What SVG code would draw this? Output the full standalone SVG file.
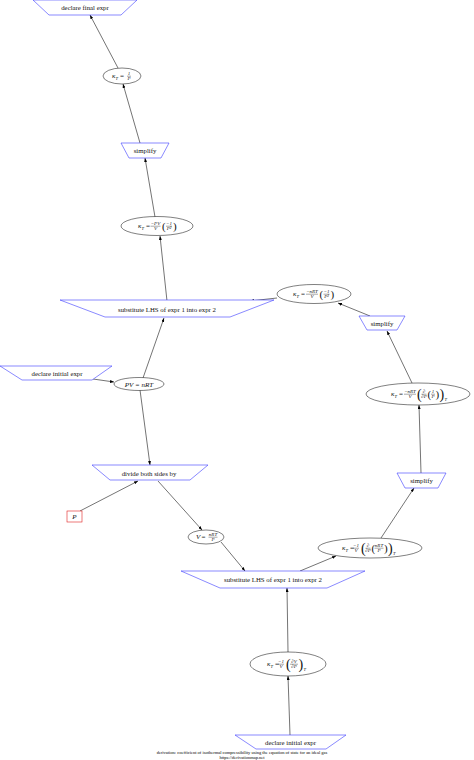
<svg xmlns="http://www.w3.org/2000/svg" width="474" height="760" viewBox="0 0 474 760">
<defs>
<marker id="arr" markerWidth="4" markerHeight="3" refX="4" refY="1.5" orient="auto" markerUnits="userSpaceOnUse">
<path d="M0,0 L4,1.5 L0,3 Z" fill="#000"/>
</marker>
<style>
.trap{fill:#fff;stroke:#3a3aff;stroke-width:0.6}
.ell{fill:#fff;stroke:#000;stroke-width:0.5}
.box{fill:#fff;stroke:#e02020;stroke-width:0.6}
.edge{fill:none;stroke:#000;stroke-width:0.55;marker-end:url(#arr)}
.t{font-family:"Liberation Serif",serif;font-size:6.8px;text-anchor:middle;fill:#111}
.mi{font-family:"Liberation Serif",serif;font-style:italic;font-size:7px;fill:#111}
.mu{font-family:"Liberation Serif",serif;font-size:7px;fill:#111}
.sb{font-family:"Liberation Serif",serif;font-style:italic;font-size:4.5px;fill:#111}
.fr{font-family:"Liberation Serif",serif;font-style:italic;font-size:5px;text-anchor:middle;fill:#111}
.p1{font-family:"Liberation Serif",serif;font-size:11px;fill:#111}
.p2{font-family:"Liberation Serif",serif;font-size:14px;fill:#111}
.bar{stroke:#000;stroke-width:0.35}
.ft{font-family:"Liberation Serif",serif;font-size:4.5px;text-anchor:middle;fill:#000}
</style>
</defs>
<rect width="474" height="760" fill="#fff"/>

<g id="connectors">
<line class="edge" x1="290" y1="735" x2="288" y2="676"/>
<line class="edge" x1="288" y1="652" x2="287" y2="588"/>
<line class="edge" x1="221" y1="542" x2="245" y2="571"/>
<line class="edge" x1="300" y1="571" x2="336" y2="556"/>
<line class="edge" x1="381" y1="538" x2="414" y2="488"/>
<line class="edge" x1="421" y1="473" x2="419" y2="405"/>
<line class="edge" x1="412" y1="383" x2="387" y2="331"/>
<line class="edge" x1="370" y1="316" x2="338" y2="303"/>
<line class="edge" x1="277" y1="298" x2="250" y2="301"/>
<line class="edge" x1="143" y1="378" x2="164" y2="318"/>
<line class="edge" x1="167" y1="301" x2="160" y2="236"/>
<line class="edge" x1="155" y1="217" x2="145" y2="158"/>
<line class="edge" x1="140" y1="143" x2="123" y2="84"/>
<line class="edge" x1="118" y1="68" x2="90" y2="15"/>
<line class="edge" x1="93" y1="379" x2="114" y2="382"/>
<line class="edge" x1="140" y1="390" x2="150" y2="465"/>
<line class="edge" x1="80" y1="511" x2="138" y2="481"/>
<line class="edge" x1="158" y1="481" x2="202" y2="530"/>
</g>

<g id="declare_final_expr">
<polygon class="trap" points="33,0 137,0 121,15 49,15"/>
<text class="t" x="85" y="10">declare final expr</text>
</g>

<g id="kappa_1_over_P">
<ellipse class="ell" cx="122" cy="76" rx="19" ry="8"/>
<text class="mi" x="112" y="78">κ</text><text class="sb" x="115.6" y="79.5">T</text><text class="mu" x="120" y="78">=</text>
<text class="fr" x="129" y="74.7">1</text><line class="bar" x1="127" y1="76.2" x2="131" y2="76.2"/><text class="fr" x="129" y="80.2">P</text>
</g>

<g id="simplify_1">
<polygon class="trap" points="121,143 169,143 161,158 129,158"/>
<text class="t" x="145" y="153">simplify</text>
</g>

<g id="kappa_PV">
<ellipse class="ell" cx="157" cy="226" rx="36" ry="9.5"/>
<text class="mi" x="138" y="228">κ</text><text class="sb" x="141.6" y="229.5">T</text><text class="mu" x="146" y="228">=</text>
<text class="fr" x="155.5" y="224.7">−PV</text><line class="bar" x1="150.5" y1="226.2" x2="160.5" y2="226.2"/><text class="fr" x="155.5" y="230.2">V</text>
<text class="p1" x="162" y="229.5">(</text>
<text class="fr" x="169" y="224.7">−1</text><line class="bar" x1="166" y1="226.2" x2="172" y2="226.2"/><text class="fr" x="169" y="230.4">P²</text>
<text class="p1" x="173" y="229.5">)</text>
</g>

<g id="substitute_1">
<polygon class="trap" points="60,300 274,300 230,317 105,317"/>
<text class="t" x="167" y="311.5">substitute LHS of expr 1 into expr 2</text>
</g>

<g id="kappa_nRT_1">
<ellipse class="ell" cx="314" cy="294" rx="37" ry="9.5"/>
<text class="mi" x="293" y="296">κ</text><text class="sb" x="296.6" y="297.5">T</text><text class="mu" x="301" y="296">=</text>
<text class="fr" x="312" y="292.7">−nRT</text><line class="bar" x1="306" y1="294.2" x2="318" y2="294.2"/><text class="fr" x="312" y="298.2">V</text>
<text class="p1" x="319.5" y="297.5">(</text>
<text class="fr" x="326.5" y="292.7">−1</text><line class="bar" x1="323.5" y1="294.2" x2="329.5" y2="294.2"/><text class="fr" x="326.5" y="298.4">P²</text>
<text class="p1" x="330.5" y="297.5">)</text>
</g>

<g id="simplify_2">
<polygon class="trap" points="359,316 405,316 397,330 367,330"/>
<text class="t" x="382" y="325.5">simplify</text>
</g>

<g id="kappa_nRT_2">
<ellipse class="ell" cx="418" cy="394" rx="52" ry="11"/>
<text class="mi" x="391" y="396">κ</text><text class="sb" x="394.6" y="397.5">T</text><text class="mu" x="399" y="396">=</text>
<text class="fr" x="410" y="392.7">−nRT</text><line class="bar" x1="404" y1="394.2" x2="416" y2="394.2"/><text class="fr" x="410" y="398.2">V</text>
<text class="p2" x="417" y="398.5">(</text>
<text class="fr" x="424" y="392.7">∂</text><line class="bar" x1="421.5" y1="394.2" x2="426.5" y2="394.2"/><text class="fr" x="424" y="398.2">∂P</text>
<text class="p1" x="427.5" y="397.5">(</text>
<text class="fr" x="433" y="392.7">1</text><line class="bar" x1="431" y1="394.2" x2="435" y2="394.2"/><text class="fr" x="433" y="398.2">P</text>
<text class="p1" x="435.5" y="397.5">)</text>
<text class="p2" x="439.5" y="398.5">)</text>
<text class="sb" x="444.5" y="401">T</text>
</g>

<g id="declare_initial_expr_1">
<polygon class="trap" points="0,366 112,366 92,380 22,380"/>
<text class="t" x="57" y="375.5">declare initial expr</text>
</g>

<g id="PV_nRT">
<ellipse class="ell" cx="139" cy="384" rx="25" ry="6.5"/>
<text class="mi" x="139" y="386.5" text-anchor="middle">PV = nRT</text>
</g>

<g id="divide_both_sides">
<polygon class="trap" points="92,465 208,465 190,480 110,480"/>
<text class="t" x="149" y="475.5">divide both sides by</text>
</g>

<g id="simplify_3">
<polygon class="trap" points="397,473 446,473 438,488 405,488"/>
<text class="t" x="421.5" y="483">simplify</text>
</g>

<g id="P_box">
<rect class="box" x="67" y="511" width="15" height="11"/>
<text class="mi" x="74.5" y="519" text-anchor="middle">P</text>
</g>

<g id="V_nRT_P">
<ellipse class="ell" cx="206" cy="537" rx="18" ry="7"/>
<text class="mi" x="196" y="539">V</text><text class="mu" x="201.5" y="539">=</text>
<text class="fr" x="213" y="535.7">nRT</text><line class="bar" x1="208.5" y1="537.2" x2="217.5" y2="537.2"/><text class="fr" x="213" y="541.2">P</text>
</g>

<g id="kappa_partial_nRT">
<ellipse class="ell" cx="370" cy="548" rx="52" ry="10"/>
<text class="mi" x="342" y="550">κ</text><text class="sb" x="345.6" y="551.5">T</text><text class="mu" x="350" y="550">=</text>
<text class="fr" x="356" y="546.7">−1</text><line class="bar" x1="353" y1="548.2" x2="359" y2="548.2"/><text class="fr" x="356" y="552.2">V</text>
<text class="p2" x="361" y="552.5">(</text>
<text class="fr" x="368" y="546.7">∂</text><line class="bar" x1="365.5" y1="548.2" x2="370.5" y2="548.2"/><text class="fr" x="368" y="552.2">∂P</text>
<text class="p1" x="371.5" y="551.5">(</text>
<text class="fr" x="379" y="546.7">nRT</text><line class="bar" x1="374.5" y1="548.2" x2="383.5" y2="548.2"/><text class="fr" x="379" y="552.2">P</text>
<text class="p1" x="384" y="551.5">)</text>
<text class="p2" x="388" y="552.5">)</text>
<text class="sb" x="393" y="555">T</text>
</g>

<g id="substitute_2">
<polygon class="trap" points="181,571 365,571 327,588 220,588"/>
<text class="t" x="273" y="582">substitute LHS of expr 1 into expr 2</text>
</g>

<g id="kappa_partial_V">
<ellipse class="ell" cx="288" cy="664" rx="38" ry="12"/>
<text class="mi" x="267" y="666">κ</text><text class="sb" x="270.6" y="667.5">T</text><text class="mu" x="275" y="666">=</text>
<text class="fr" x="281" y="662.7">−1</text><line class="bar" x1="278" y1="664.2" x2="284" y2="664.2"/><text class="fr" x="281" y="668.2">V</text>
<text class="p2" x="286" y="668.5">(</text>
<text class="fr" x="294" y="662.7">∂V</text><line class="bar" x1="290" y1="664.2" x2="298" y2="664.2"/><text class="fr" x="294" y="668.2">∂P</text>
<text class="p2" x="298.5" y="668.5">)</text>
<text class="sb" x="303.5" y="671">T</text>
</g>

<g id="declare_initial_expr_2">
<polygon class="trap" points="235,735 346,735 326,749 256,749"/>
<text class="t" x="290.5" y="744.5">declare initial expr</text>
</g>

<g id="footer">
<text class="ft" x="242" y="753.5">derivation: coefficient of isothermal compressibility using the equation of state for an ideal gas</text>
<text class="ft" x="242" y="758.5">https://derivationmap.net</text>
</g>
</svg>
